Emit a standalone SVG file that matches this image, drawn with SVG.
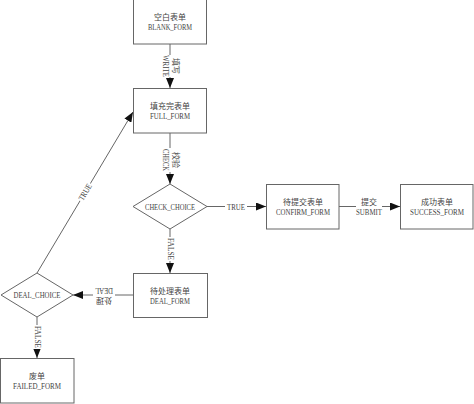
<svg xmlns="http://www.w3.org/2000/svg" width="474" height="404" viewBox="0 0 474 404">
<style>
.box{fill:#fff;stroke:#666;stroke-width:1}
.ln{fill:none;stroke:#666;stroke-width:1}
.cn{font-family:"Noto Sans CJK SC","Liberation Serif",serif;font-size:8px;fill:#444;text-anchor:middle;dominant-baseline:central}
.en{font-family:"Liberation Serif",serif;font-size:8.5px;fill:#444;text-anchor:middle;dominant-baseline:central}
.bg{fill:#fff}
</style>
<defs>
<marker id="arr" viewBox="0 0 10 8" refX="10" refY="4" markerWidth="10" markerHeight="8" markerUnits="userSpaceOnUse" orient="auto">
<path d="M0,0 L10,4 L0,8 Z" fill="#111"/>
</marker>
</defs>
<rect width="474" height="404" fill="#fff"/>
<g id="connectors">
<line class="ln" x1="170" y1="44" x2="170" y2="88" marker-end="url(#arr)"/>
<line class="ln" x1="170" y1="133" x2="170" y2="184" marker-end="url(#arr)"/>
<line class="ln" x1="207" y1="206.5" x2="266" y2="206.5" marker-end="url(#arr)"/>
<line class="ln" x1="339" y1="206.5" x2="400" y2="206.5" marker-end="url(#arr)"/>
<line class="ln" x1="170" y1="229" x2="170" y2="273" marker-end="url(#arr)"/>
<line class="ln" x1="133" y1="295" x2="73" y2="295" marker-end="url(#arr)"/>
<line class="ln" x1="37" y1="317" x2="37" y2="358" marker-end="url(#arr)"/>
<line class="ln" x1="37" y1="273" x2="133" y2="112" marker-end="url(#arr)"/>
<g transform="translate(170.5,66) rotate(90)">
<rect class="bg" x="-11" y="-11" width="22" height="22"/>
<text class="cn" x="0" y="-6">填写</text>
<text class="en" x="0" y="5" textLength="22" lengthAdjust="spacingAndGlyphs">WRITE</text>
</g>
<g transform="translate(170.5,160) rotate(90)">
<rect class="bg" x="-12" y="-11" width="24" height="22"/>
<text class="cn" x="0" y="-6">校验</text>
<text class="en" x="0" y="5" textLength="22" lengthAdjust="spacingAndGlyphs">CHECK</text>
</g>
<g transform="translate(236,206.5)">
<rect class="bg" x="-11" y="-5" width="22" height="10"/>
<text class="en" x="0" y="0" textLength="18" lengthAdjust="spacingAndGlyphs">TRUE</text>
</g>
<g transform="translate(369,206)">
<rect class="bg" x="-13" y="-11" width="26" height="22"/>
<text class="cn" x="0" y="-5">提交</text>
<text class="en" x="0" y="5.5" textLength="26" lengthAdjust="spacingAndGlyphs">SUBMIT</text>
</g>
<g transform="translate(170.5,249) rotate(90)">
<rect class="bg" x="-12" y="-5" width="24" height="10"/>
<text class="en" x="0" y="0" textLength="22" lengthAdjust="spacingAndGlyphs">FALSE</text>
</g>
<g transform="translate(104,296) rotate(180)">
<rect class="bg" x="-11" y="-11" width="22" height="22"/>
<text class="cn" x="0" y="-5">处理</text>
<text class="en" x="0" y="5.5" textLength="18" lengthAdjust="spacingAndGlyphs">DEAL</text>
</g>
<g transform="translate(37.5,337) rotate(90)">
<rect class="bg" x="-12" y="-5" width="24" height="10"/>
<text class="en" x="0" y="0" textLength="22" lengthAdjust="spacingAndGlyphs">FALSE</text>
</g>
<g transform="translate(85,192) rotate(-59)">
<rect class="bg" x="-10" y="-4.5" width="20" height="9"/>
<text class="en" x="0" y="0" textLength="18" lengthAdjust="spacingAndGlyphs">TRUE</text>
</g>
</g>
<g id="blank_form">
<rect class="box" x="133.5" y="-1" width="73" height="45"/>
<text class="cn" x="170" y="16">空白表单</text>
<text class="en" x="170" y="26.5" textLength="44" lengthAdjust="spacingAndGlyphs">BLANK_FORM</text>
</g>
<g id="full_form">
<rect class="box" x="133.5" y="88.5" width="73" height="44.5"/>
<text class="cn" x="170" y="105">填充完表单</text>
<text class="en" x="170" y="116" textLength="40" lengthAdjust="spacingAndGlyphs">FULL_FORM</text>
</g>
<g id="check_choice">
<polygon class="box" points="170,184 207,206.5 170,229 133,206.5"/>
<text class="en" x="170" y="206.5" textLength="50" lengthAdjust="spacingAndGlyphs">CHECK_CHOICE</text>
</g>
<g id="confirm_form">
<rect class="box" x="266.5" y="184.5" width="72.5" height="44.5"/>
<text class="cn" x="303" y="201">待提交表单</text>
<text class="en" x="303" y="212" textLength="54" lengthAdjust="spacingAndGlyphs">CONFIRM_FORM</text>
</g>
<g id="success_form">
<rect class="box" x="400.5" y="184.5" width="72.5" height="44.5"/>
<text class="cn" x="437" y="201">成功表单</text>
<text class="en" x="437" y="212" textLength="54" lengthAdjust="spacingAndGlyphs">SUCCESS_FORM</text>
</g>
<g id="deal_form">
<rect class="box" x="133.5" y="273.5" width="74" height="44"/>
<text class="cn" x="170" y="290">待处理表单</text>
<text class="en" x="170" y="301" textLength="40" lengthAdjust="spacingAndGlyphs">DEAL_FORM</text>
</g>
<g id="deal_choice">
<polygon class="box" points="37,273 73,295 37,317 1,295"/>
<text class="en" x="37" y="295" textLength="47" lengthAdjust="spacingAndGlyphs">DEAL_CHOICE</text>
</g>
<g id="failed_form">
<rect class="box" x="0.5" y="358.5" width="73.5" height="44.5"/>
<text class="cn" x="37" y="375">废单</text>
<text class="en" x="37" y="386" textLength="48" lengthAdjust="spacingAndGlyphs">FAILED_FORM</text>
</g>
</svg>
